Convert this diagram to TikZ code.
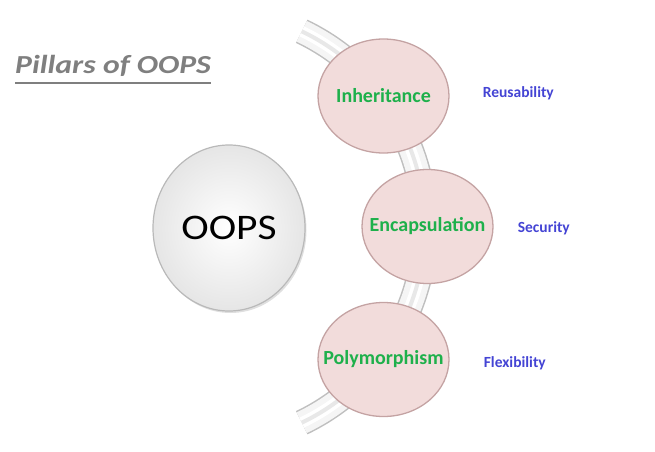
\documentclass[tikz,border=0pt]{standalone}
\usepackage{fontspec}
\setmainfont{Carlito}
\usetikzlibrary{positioning,shapes.geometric,shadows}
\definecolor{pillarpink}{HTML}{F2DCDB}
\definecolor{pillarrim}{HTML}{C4A3A3}
\definecolor{pillargreen}{HTML}{1EB04B}
\definecolor{gainblue}{HTML}{4444D4}
\definecolor{titlegray}{HTML}{7F7F7F}
\tikzset{
  pillar/.style={ellipse, fill=pillarpink, draw=pillarrim, line width=1.3pt,
    minimum width=131pt, minimum height=114pt, inner sep=0pt,
    font=\fontsize{20}{24}\selectfont\bfseries, text=pillargreen},
  gain/.style={inner sep=0pt, font=\fontsize{15.5}{18}\selectfont\bfseries, text=gainblue},
  core/.style={ellipse, minimum width=152pt, minimum height=166pt, draw=gray!55,
    line width=1.2pt, inner color=white, outer color=gray!20,
    drop shadow={shadow xshift=1.5pt, shadow yshift=-2pt, opacity=0.25},
    font=\fontsize{36}{40}\selectfont},
  band/.style={line cap=butt}
}

\begin{document}
\begin{tikzpicture}[x=1pt,y=1pt]
  \useasboundingbox (0,0) rectangle (655,451);
  % band behind the pillars
  \coordinate (hub) at (208,224);
  \foreach \w/\c in {26/gray!50, 23/gray!8, 11/white, 4/gray!18}
    \draw[band, line width=\w pt, \c] ([shift={(64.4:217pt)}]hub)
      arc[start angle=64.4, end angle=-64.4, radius=217pt];
  % Define nodes
  \node[core] (oops) at (229,223) {\scalebox{1.15}[1]{OOPS}};
  \node[pillar] (inh)  at (383.5,355)   {\makebox[0pt]{Inheritance}};
  \node[pillar] (enc)  at (427.5,224.5) {\makebox[0pt]{Encapsulation}};
  \node[pillar] (poly) at (383.5,91.5)  {\makebox[0pt]{Polymorphism}};
  \node[gain, right=33pt of inh, yshift=3pt]    (reuse)  {Reusability};
  \node[gain, right=24pt of enc, yshift=-1.5pt] (secure) {Security};
  \node[gain, right=34pt of poly, yshift=-3.5pt] (flex)  {Flexibility};
  % title
  \node[anchor=base west, inner sep=0pt, text=titlegray,
    font=\fontsize{26}{30}\selectfont\bfseries\itshape] (title) at (15,377.5)
    {\scalebox{1.22}[1]{Pillars of OOPS}};
  \draw[titlegray, line width=2.5pt] ([yshift=-9.5pt]title.base west) -- ([yshift=-9.5pt]title.base east);
\end{tikzpicture}
\end{document}
